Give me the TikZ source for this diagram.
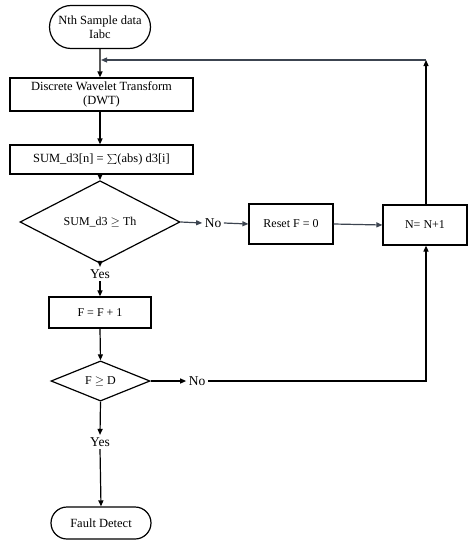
\documentclass[tikz,border=0pt]{standalone}
\usepackage{fontspec}
\setmainfont{Liberation Serif}
\usetikzlibrary{shapes.geometric,shapes.misc,arrows.meta}
\definecolor{slateline}{RGB}{60,68,80}
\begin{document}
\begin{tikzpicture}[x=1pt,y=-1pt, line width=1.2pt,
    arr/.style={-{Triangle[length=6pt,width=5pt]}},
    procbox/.style={draw, rectangle, inner sep=0pt, font=\fontsize{12}{14}\selectfont, align=center},
    termbox/.style={draw, rounded rectangle, inner sep=0pt, font=\fontsize{12.5}{14.5}\selectfont, align=center},
    decbox/.style={draw, diamond, inner sep=0pt, font=\fontsize{12}{14}\selectfont},
    lbl/.style={inner sep=2pt, font=\fontsize{13.5}{15}\selectfont}]
    \useasboundingbox (0,0) rectangle (474,551);

    % main column
    \node[termbox, minimum width=101, minimum height=43] (start) at (100,27) {Nth Sample data\\Iabc};
    \node[procbox, minimum width=183, minimum height=33, font=\fontsize{12.5}{14.5}\selectfont] (dwt) at (101.5,94.5) {Discrete Wavelet Transform\\(DWT)};
    \node[procbox, minimum width=183, minimum height=29, font=\fontsize{12.5}{14.5}\selectfont] (sum) at (101.5,159.5) {SUM\_d3[n] = $\sum$(abs) d3[i]};
    \node[decbox, minimum width=160, minimum height=54] (dec1) at (100,222) {SUM\_d3 $\geq$ Th};
    \node[lbl] (yes1) at (100,274) {Yes};
    \node[procbox, minimum width=102, minimum height=31] (finc) at (100,312.5) {F = F + 1};
    \node[decbox, minimum width=99, minimum height=39] (dec2) at (100.5,381) {F $\geq$ D};
    \node[lbl] (yes2) at (100,442) {Yes};
    \node[termbox, minimum width=100, minimum height=32] (stop) at (101,523) {Fault Detect};

    % right branch
    \node[lbl] (no1) at (213,223) {No};
    \node[procbox, minimum width=84, minimum height=40] (reset) at (291,224) {Reset F = 0};
    \node[procbox, minimum width=84, minimum height=40] (ninc) at (425,225) {N= N+1};
    \node[lbl] (no2) at (197,381) {No};

    \coordinate (corner) at (426,60);
    \coordinate (join) at (101,60);

    \draw[arr] (start) -- (start |- dwt.north);
    \draw[arr] (dwt.south -| start) -- (start |- sum.north);
    \draw[arr] (sum.south -| start) -- (dec1.north);
    \draw[arr, slateline] (dec1.east) -- (no1.west);
    \draw[arr, slateline] (no1.east) -- (reset.west);
    \draw[arr, slateline] (reset.east) -- (ninc.west);
    \draw[arr] (ninc.north -| corner) -- (corner);
    \draw[arr, slateline] (corner) -- (join);
    \draw[arr] (dec1.south) -- (yes1.north);
    \draw[arr] (yes1.south) -- (finc.north);
    \draw[arr] (finc.south) -- (dec2.north);
    \draw[arr] (dec2.east) -- (no2.west);
    \draw[arr] (no2.east) -- (no2.east -| corner) -- (ninc.south -| corner);
    \draw[arr] (dec2.south) -- (yes2.north);
    \draw[arr] (yes2.south) -- (stop.north);
\end{tikzpicture}
\end{document}
